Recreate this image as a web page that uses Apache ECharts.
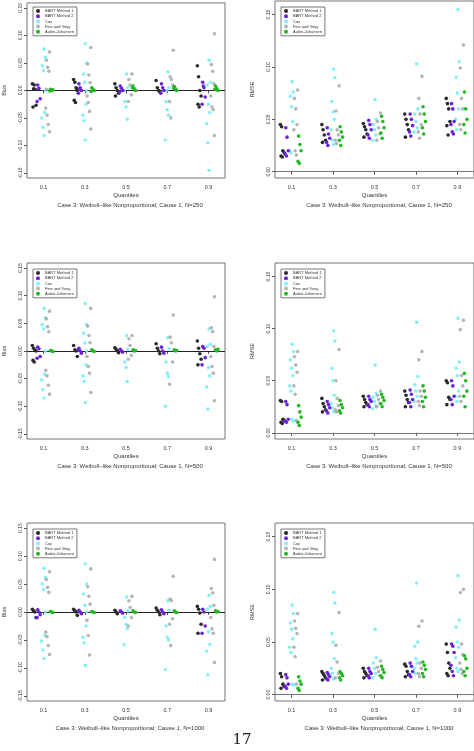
<!DOCTYPE html>
<html><head><meta charset="utf-8">
<script src="https://cdn.jsdelivr.net/npm/echarts@6/dist/echarts.min.js"></script>
<style>html,body{margin:0;padding:0;background:#fff}#c{width:474px;height:751px}</style>
</head><body><div id="c"></div>
<script>
const quantiles = [0.1, 0.3, 0.5, 0.7, 0.9];
const methods = ["BART Method 1", "BART Method 2", "Cox", "Fine and Gray", "Aalen-Johansen"];
const colors = ["#2a2a2a", "#6a22d8", "#70eef6", "#a8a8a8", "#22b822"];
const panelTitles = [
 "Case 3: Weibull\u2013like Nonproportional; Cause 1, N=250",
 "Case 3: Weibull\u2013like Nonproportional; Cause 1, N=500",
 "Case 3: Weibull\u2013like Nonproportional; Cause 1, N=1000"];
const yTicksBias = [-0.15,-0.10,-0.05,0,0.05,0.10,0.15];
const yTicksRmse = [0,0.05,0.10,0.15];

const bias250 = [
 [[0.012,0.003,0.002,-0.027,-0.03,0.01],[0.02,0.015,0.005,0,-0.018,-0.022,0.003],[0.012,0.005,0,-0.005,-0.01],[0.018,0.005,0,-0.003],[0.045,0.025,0,-0.01,-0.025,-0.03]],
 [[0.01,0.004,-0.015,-0.02,0.003],[0.012,0.005,0,-0.005,0.002],[0.008,0.004,0,-0.003],[0.012,0.005,0,-0.005],[0.015,0.005,-0.012,-0.025,0.008]],
 [[0.075,0.06,0.045,0.036,-0.04,-0.05,-0.067,-0.082,0],[0.085,0.05,0.03,0.015,-0.025,-0.045,-0.055,-0.09,0],[0.03,0.005,-0.02,-0.03,-0.052,0],[0.034,0.005,-0.02,-0.035,-0.045,-0.09,0],[0.055,0.015,0.01,-0.025,-0.04,-0.06,-0.095,-0.145]],
 [[0.07,0.055,0.042,0.035,-0.032,-0.045,-0.062,-0.075,0.002],[0.078,0.048,0.028,0.014,-0.01,-0.022,-0.038,-0.07],[0.03,0.02,0.01,-0.008,-0.02],[0.073,0.025,0.02,0.01,-0.02,-0.05],[0.103,0.047,0.035,0.012,-0.01,-0.03,-0.035,-0.082]],
 [[0.002,0,0.001,-0.001],[0.005,0.002,0,-0.002],[0.008,0.003,0,0.005],[0.007,0.003,0,0.004],[0.008,0.004,0,0.002]]];
const rmse250 = [
 [[0.045,0.043,0.02,0.018,0.015,0.014],[0.045,0.04,0.035,0.03,0.028],[0.046,0.043,0.04,0.036,0.033],[0.055,0.05,0.045,0.04,0.033],[0.07,0.065,0.06,0.048,0.044,0.035]],
 [[0.042,0.033,0.02,0.017,0.015],[0.042,0.036,0.032,0.028,0.025],[0.049,0.045,0.04,0.035,0.032],[0.055,0.05,0.044,0.038,0.034],[0.065,0.06,0.048,0.045,0.038,0.036]],
 [[0.086,0.076,0.072,0.062,0.048,0.02,0.018],[0.098,0.09,0.067,0.057,0.05,0.04,0.03,0.026],[0.069,0.05,0.045,0.04,0.035,0.03],[0.103,0.06,0.055,0.048,0.042,0.038],[0.155,0.105,0.09,0.075,0.06,0.05,0.04]],
 [[0.078,0.07,0.06,0.045,0.04,0.02,0.016],[0.082,0.058,0.04,0.035,0.03,0.027],[0.056,0.048,0.042,0.036,0.03],[0.091,0.07,0.055,0.045,0.038,0.032],[0.121,0.099,0.07,0.06,0.045,0.04]],
 [[0.034,0.026,0.02,0.01,0.008],[0.043,0.038,0.033,0.03,0.025],[0.053,0.048,0.042,0.037,0.032],[0.062,0.055,0.048,0.042,0.036],[0.076,0.06,0.05,0.045,0.037]]];
const bias500 = [
 [[0.01,0.005,0.002,0,-0.017,-0.02],[0.01,0.002,0,-0.01],[0.006,0.003,0,-0.003],[0.013,0.005,0,-0.005],[0.018,0.005,-0.005,-0.015,-0.025]],
 [[0.007,0.004,-0.01,-0.013],[0.005,0,-0.004,0.002],[0.003,0,-0.002],[0.007,0,-0.004],[0.008,0.005,-0.012,-0.025]],
 [[0.077,0.06,0.048,0.04,-0.042,-0.052,-0.07,-0.085,0],[0.086,0.048,0.032,0.015,-0.025,-0.045,-0.055,-0.093,0],[0.028,0.003,-0.02,-0.03,-0.055],[0.024,0.004,-0.02,-0.04,-0.046,-0.1],[0.04,0.012,0.008,-0.03,-0.045,-0.065,-0.105]],
 [[0.072,0.058,0.044,0.035,-0.035,-0.045,-0.062,-0.078],[0.077,0.045,0.028,0.015,-0.01,-0.028,-0.04,-0.075],[0.028,0.022,0.01,-0.008,-0.015],[0.065,0.025,0.015,-0.02,-0.06],[0.098,0.042,0.035,0.008,-0.01,-0.028,-0.04,-0.09]],
 [[0.001,0,-0.001],[0.002,0,-0.001],[0.002,0,0.001],[0.002,0,0.001],[0.002,0,0.003]]];
const rmse500 = [
 [[0.031,0.03,0.013,0.012,0.01,0.009],[0.033,0.028,0.025,0.022,0.02],[0.035,0.032,0.029,0.027,0.025],[0.04,0.036,0.032,0.029,0.025],[0.05,0.048,0.034,0.032,0.027]],
 [[0.03,0.027,0.013,0.011,0.01],[0.03,0.027,0.024,0.021,0.019],[0.035,0.032,0.03,0.027,0.025],[0.041,0.037,0.032,0.029,0.025],[0.05,0.045,0.035,0.032,0.027]],
 [[0.085,0.078,0.07,0.062,0.055,0.045,0.04,0.013,0.011],[0.098,0.088,0.062,0.05,0.036,0.028,0.024,0.02],[0.065,0.038,0.034,0.03,0.026,0.023],[0.106,0.054,0.046,0.04,0.035,0.03],[0.11,0.068,0.062,0.055,0.04,0.035,0.03]],
 [[0.078,0.073,0.065,0.058,0.045,0.037,0.012],[0.08,0.05,0.033,0.026,0.022,0.02],[0.04,0.036,0.032,0.028,0.025],[0.078,0.07,0.04,0.035,0.03,0.026],[0.108,0.099,0.055,0.045,0.035,0.03]],
 [[0.026,0.02,0.015,0.01,0.007],[0.031,0.027,0.024,0.021,0.019],[0.037,0.034,0.031,0.028,0.025],[0.045,0.04,0.034,0.03,0.025],[0.057,0.05,0.04,0.035,0.025]]];
const bias1000 = [
 [[0.005,0.002,0,-0.01],[0.005,0.002,0,-0.006],[0.003,0,-0.003],[0.007,0.003,0,-0.005],[0.01,0.005,-0.002,-0.022,-0.038]],
 [[0.004,0,-0.005,-0.01],[0.003,0,-0.003],[0.002,0,-0.002],[0.004,0,-0.003],[0.005,0,-0.025,-0.038]],
 [[0.078,0.062,0.05,0.04,-0.042,-0.052,-0.068,-0.083,0],[0.086,0.05,0.032,0.012,-0.025,-0.045,-0.055,-0.095,0],[0.027,0.002,-0.01,-0.022,-0.03,-0.058],[0.02,0.003,-0.025,-0.045,-0.05,-0.103],[0.03,0.01,0.005,-0.035,-0.058,-0.07,-0.112]],
 [[0.072,0.058,0.044,0.035,-0.036,-0.044,-0.06,-0.076],[0.077,0.045,0.028,0.014,-0.015,-0.042,-0.077],[0.028,0.02,0.008,-0.01,-0.025],[0.064,0.023,0.02,-0.012,-0.022,-0.06],[0.094,0.042,0.034,0.012,-0.01,-0.03,-0.038,-0.09]],
 [[0.001,0,-0.001],[0.001,0,-0.001],[0.002,0,-0.001],[0.002,0,-0.001],[0.002,0,0.001]]];
const rmse1000 = [
 [[0.02,0.017,0.01,0.008,0.006],[0.022,0.02,0.018,0.016,0.014],[0.025,0.022,0.02,0.018,0.016],[0.029,0.027,0.022,0.019,0.017],[0.048,0.04,0.03,0.025,0.02,0.018]],
 [[0.019,0.016,0.01,0.008,0.006],[0.021,0.019,0.017,0.015,0.014],[0.025,0.022,0.02,0.018,0.016],[0.03,0.027,0.022,0.019,0.017],[0.048,0.046,0.04,0.028,0.022,0.018]],
 [[0.085,0.077,0.068,0.062,0.053,0.045,0.04,0.01,0.009],[0.097,0.087,0.058,0.05,0.034,0.025,0.02,0.015],[0.062,0.035,0.03,0.025,0.02,0.016],[0.106,0.05,0.046,0.034,0.03,0.025,0.02],[0.113,0.071,0.064,0.05,0.045,0.035,0.025,0.022]],
 [[0.077,0.07,0.063,0.058,0.045,0.036,0.01],[0.078,0.047,0.031,0.02,0.016],[0.032,0.026,0.022,0.018],[0.07,0.065,0.03,0.025,0.02,0.017],[0.1,0.097,0.048,0.038,0.03,0.024,0.02]],
 [[0.017,0.013,0.01,0.006,0.004],[0.022,0.02,0.018,0.016,0.014],[0.027,0.024,0.021,0.018,0.016],[0.031,0.028,0.024,0.02,0.017],[0.037,0.034,0.025,0.022,0.018]]];

const panels = [bias250, rmse250, bias500, rmse500, bias1000, rmse1000];
const methodOffset = [-0.045, -0.025, 0, 0.02, 0.04];
const jit = i => (((i * 37) % 7) - 3) * 0.003;
const rowTop = [1, 263, 523], rowH = [177, 176, 178];

const grid = [], xAxis = [], yAxis = [], series = [], legend = [], title = [];
panels.forEach((p, k) => {
  const row = Math.floor(k / 2), isR = k % 2 === 1;
  const left = isR ? 275 : 27;
  grid.push({left, top: rowTop[row], width: isR ? 199 : 198, height: rowH[row], show: true, borderColor: '#777', borderWidth: 1, backgroundColor: 'transparent'});
  xAxis.push({gridIndex: k, type: 'value', min: 0.02, max: 0.98, splitLine: {show: false}, axisLine: {show: false},
    axisTick: {show: true, customValues: quantiles, length: 3, lineStyle: {color: '#555'}},
    axisLabel: {customValues: quantiles, formatter: v => v.toFixed(1), fontSize: 5.5, color: '#333', margin: 6},
    name: 'Quantiles', nameLocation: 'middle', nameGap: 14, nameTextStyle: {fontSize: 6, color: '#333'}});
  const ticks = isR ? yTicksRmse : yTicksBias;
  yAxis.push({gridIndex: k, type: 'value', min: isR ? -0.006 : -0.159, max: isR ? 0.163 : 0.159, splitLine: {show: false}, axisLine: {show: false},
    axisTick: {show: true, customValues: ticks, length: 3, lineStyle: {color: '#555'}},
    axisLabel: {customValues: ticks, formatter: v => v.toFixed(2), fontSize: 5, color: '#333', rotate: 90, margin: 4},
    name: isR ? 'RMSE' : 'Bias', nameLocation: 'middle', nameGap: 20, nameRotate: 90, nameTextStyle: {fontSize: 5.5, color: '#333'}});
  methods.forEach((m, mi) => {
    const data = [];
    p[mi].forEach((vals, qi) => vals.forEach((v, i) => data.push([quantiles[qi] + methodOffset[mi] + jit(i + mi), v])));
    const s = {name: m, type: 'scatter', xAxisIndex: k, yAxisIndex: k, data, symbolSize: 3.6,
      itemStyle: {color: colors[mi], opacity: mi === 2 || mi === 3 ? 0.85 : 1}, z: mi === 2 || mi === 3 ? 2 : 3};
    if (mi === 0) s.markLine = {silent: true, symbol: 'none', label: {show: false}, lineStyle: {color: isR ? '#777' : '#222', width: 1, type: 'solid'}, data: [{yAxis: 0}], z: 1};
    series.push(s);
  });
  legend.push({left: left + 6, top: rowTop[row] + 6, orient: 'vertical', data: methods, itemWidth: 4, itemHeight: 4, itemGap: 1.2,
    padding: [2, 3], borderColor: '#555', borderWidth: 0.8, backgroundColor: '#fff', icon: 'circle', textStyle: {fontSize: 4, color: '#333'}, selectedMode: false});
  title.push({text: panelTitles[row], left: (isR ? 374 : 125), top: rowTop[row] + rowH[row] + 19, textAlign: 'center',
    textStyle: {fontSize: 6, fontWeight: 'normal', color: '#333'}});
});
title.push({text: '17', left: 237, top: 728, textAlign: 'center', textStyle: {fontSize: 15, fontWeight: 'normal', fontFamily: 'DejaVu Serif', color: '#222'}});

const chart = echarts.init(document.getElementById('c'));
chart.setOption({animation: false, textStyle: {fontFamily: 'Liberation Sans'}, grid, xAxis, yAxis, series, legend, title});
</script></body></html>
